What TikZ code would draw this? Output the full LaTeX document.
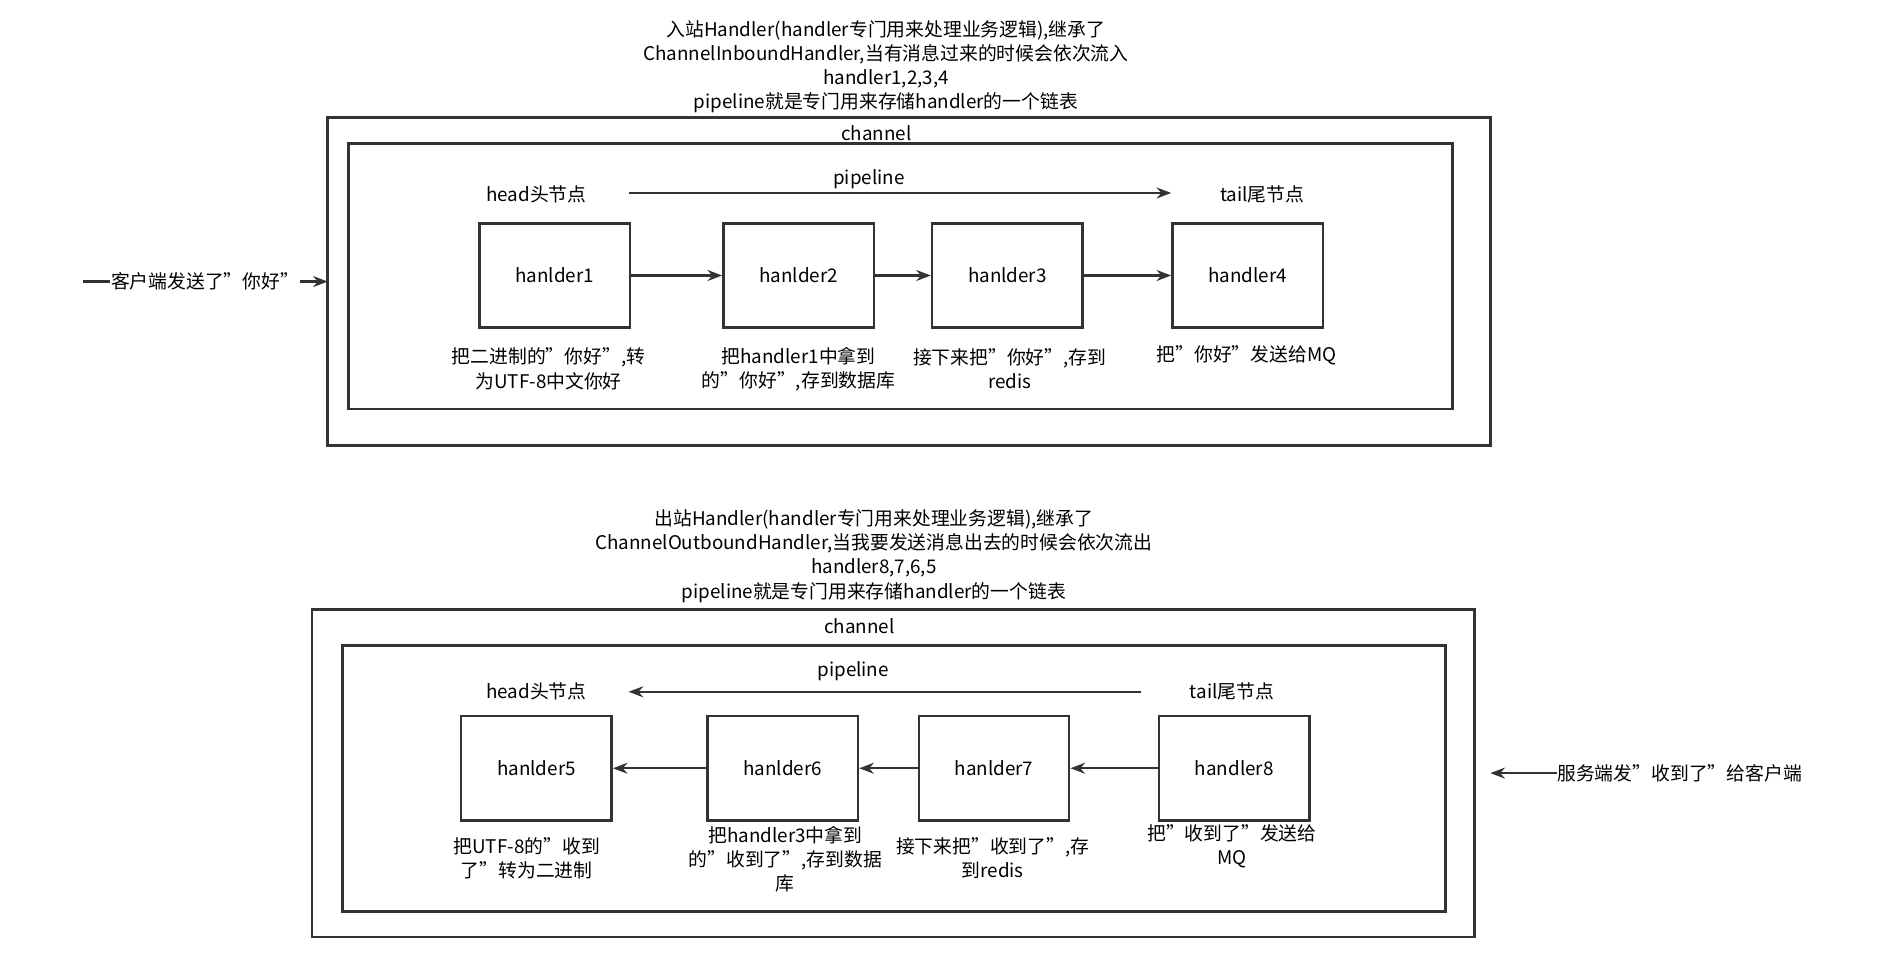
\documentclass[tikz,border=0pt]{standalone}
\usepackage{fontspec}
\setmainfont{Noto Sans CJK SC}
\usetikzlibrary{arrows.meta}
\begin{document}
\begin{tikzpicture}[x=1pt,y=-1pt,font=\fontsize{15.5}{20}\selectfont,
    box/.style={draw=black!80, line width=2pt, minimum width=124pt, minimum height=86pt, inner sep=0pt},
    frame/.style={draw=black!80, line width=2.2pt},
    note/.style={align=center, inner sep=0pt},
    arr/.style={line width=2pt, draw=black!80, -{Stealth[length=12pt,width=9pt]}}]
    \useasboundingbox (0,0) rectangle (1568,785);
    % inbound
    \node[note] (tin) at (730,55) {入站Handler(handler专门用来处理业务逻辑),继承了\\ChannelInboundHandler,当有消息过来的时候会依次流入\\handler1,2,3,4\\pipeline就是专门用来存储handler的一个链表};
    \draw[frame] (270,97) rectangle (1228,367);
    \draw[frame] (287,118) rectangle (1197,337);
    \node (ch1) at (722,110) {channel};
    \node (hd1) at (442,160) {head头节点};
    \node (tl1) at (1040,160) {tail尾节点};
    \node (pp1) at (716,148) {pipeline};
    \coordinate (ps1) at (518,159);
    \coordinate (pe1) at (965,159);
    \draw[arr] (ps1) -- (pe1);
    \node[box] (h1) at (457,227) {hanlder1};
    \node[box] (h2) at (658,227) {hanlder2};
    \node[box] (h3) at (830,227) {hanlder3};
    \node[box] (h4) at (1028,227) {handler4};
    \draw[arr] (h1) -- (h2);
    \draw[arr] (h2) -- (h3);
    \draw[arr] (h3) -- (h4);
    \node[note] (c1) at (452,304) {把二进制的"你好",转\\为UTF-8中文你好};
    \node[note] (c2) at (658,304) {把handler1中拿到\\的"你好",存到数据库};
    \node[note] (c3) at (832,304) {接下来把"你好",存到\\redis};
    \node[note] (c4) at (1027,293) {把"你好"发送给MQ};
    \coordinate (cl) at (68,232);
    \coordinate (ce) at (270,232);
    \draw[arr] (cl) -- (ce) node[pos=0.5, fill=white, inner sep=1pt] (cm) {客户端发送了"你好"};
    % outbound
    \node[note] (tout) at (720,458) {出站Handler(handler专门用来处理业务逻辑),继承了\\ChannelOutboundHandler,当我要发送消息出去的时候会依次流出\\handler8,7,6,5\\pipeline就是专门用来存储handler的一个链表};
    \draw[frame] (257,502) rectangle (1215,772);
    \draw[frame] (282,532) rectangle (1191,751);
    \node (ch2) at (708,516) {channel};
    \node (hd2) at (442,570) {head头节点};
    \node (tl2) at (1015,570) {tail尾节点};
    \node (pp2) at (703,553) {pipeline};
    \coordinate (ps2) at (940,570);
    \coordinate (pe2) at (518,570);
    \draw[arr] (ps2) -- (pe2);
    \node[box] (h5) at (442,633) {hanlder5};
    \node[box] (h6) at (645,633) {hanlder6};
    \node[box] (h7) at (819,633) {hanlder7};
    \node[box] (h8) at (1017,633) {handler8};
    \draw[arr] (h8) -- (h7);
    \draw[arr] (h7) -- (h6);
    \draw[arr] (h6) -- (h5);
    \node[note] (c5) at (434,707) {把UTF-8的"收到\\了"转为二进制};
    \node[note] (c6) at (647,708) {把handler3中拿到\\的"收到了",存到数据\\库};
    \node[note] (c7) at (818,707) {接下来把"收到了",存\\到redis};
    \node[note] (c8) at (1015,697) {把"收到了"发送给\\MQ};
    \node[anchor=west, inner sep=0pt] (sv) at (1283,637) {服务端发"收到了"给客户端};
    \coordinate (se) at (1228,637);
    \draw[arr] (sv) -- (se);
\end{tikzpicture}
\end{document}
